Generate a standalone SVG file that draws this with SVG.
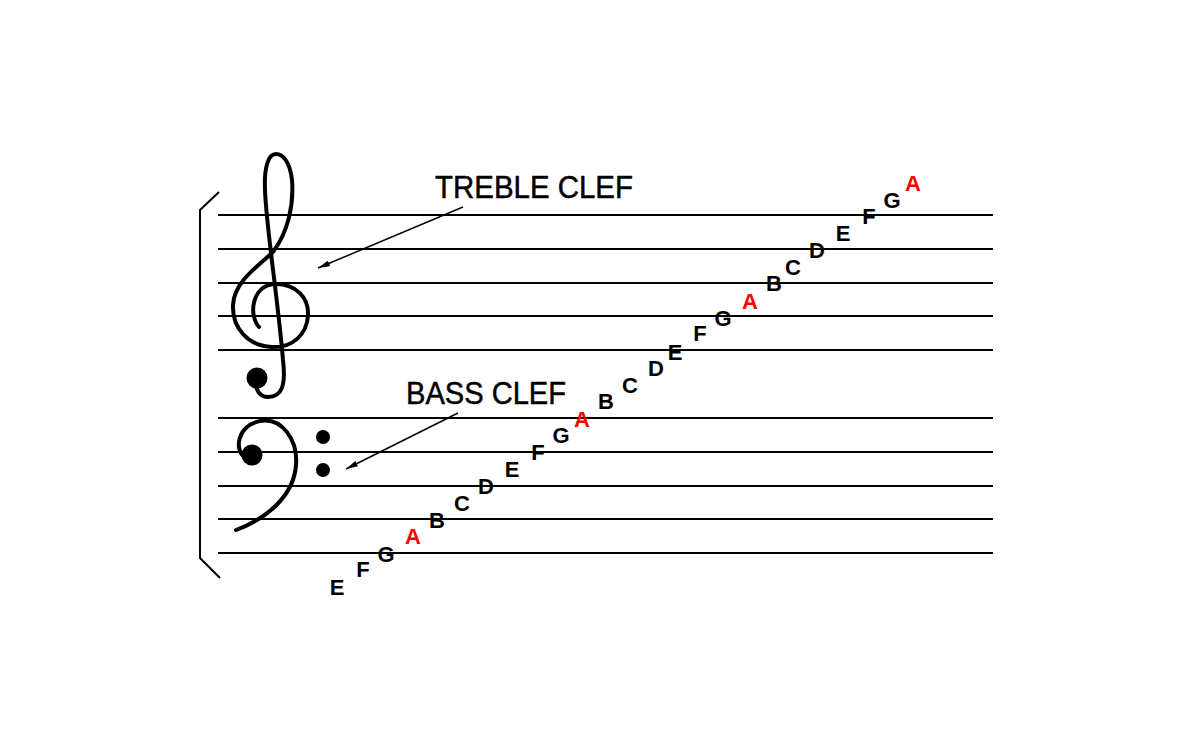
<svg xmlns="http://www.w3.org/2000/svg" width="1200" height="750" viewBox="0 0 1200 750">
<style>
.staff{stroke:#000;stroke-width:2;fill:none}
.clef{stroke:#000;stroke-width:4;fill:none;stroke-linecap:round}
.lbl{font-family:"Liberation Sans",Arial,sans-serif;font-size:32px;fill:#000;stroke:#000;stroke-width:0.5}
.n{font-family:"Liberation Sans",Arial,sans-serif;font-size:22px;font-weight:bold;fill:#000;text-anchor:middle}
.r{fill:#ff0000}
.arrow{stroke:#000;stroke-width:1.5;fill:none}
</style>
<defs>
<marker id="ah" viewBox="0 0 12 6" refX="12" refY="3" markerWidth="12" markerHeight="6" markerUnits="userSpaceOnUse" orient="auto">
<path d="M0,0 L12,3 L0,6 Z" fill="#000"/>
</marker>
</defs>
<rect width="1200" height="750" fill="#fff"/>
<g id="bracket">
<path class="staff" d="M219 192 L200 210 L200 558 L220 578" stroke-width="2.5"/>
</g>
<g id="treble-staff">
<line class="staff" x1="218" y1="215" x2="993" y2="215"/>
<line class="staff" x1="218" y1="249" x2="993" y2="249"/>
<line class="staff" x1="218" y1="283" x2="993" y2="283"/>
<line class="staff" x1="218" y1="316" x2="993" y2="316"/>
<line class="staff" x1="218" y1="350" x2="993" y2="350"/>
</g>
<g id="bass-staff">
<line class="staff" x1="218" y1="418" x2="993" y2="418"/>
<line class="staff" x1="218" y1="452" x2="993" y2="452"/>
<line class="staff" x1="218" y1="486" x2="993" y2="486"/>
<line class="staff" x1="218" y1="519" x2="993" y2="519"/>
<line class="staff" x1="218" y1="553" x2="993" y2="553"/>
</g>
<g id="treble-clef">
<path class="clef" d="M259 327 C248 315 252 284 276 284 C296 284 309 298 308 315 C307 335 292 348 272 347 C248 346 232 328 233 305 C234 282 258 266 273 252 C288 232 294 205 292 180 C290 162 283 154 276 154 C268 154 264 168 265 190 C266 225 278 300 283 360 C286 385 282 397 268 397 C260 397 256 390 256 384"/>
<circle cx="257" cy="378" r="10.5" fill="#000"/>
</g>
<g id="bass-clef">
<path class="clef" d="M246 458 C234 452 236 426 260 421 C282 417 298 440 296 465 C294 495 268 518 236 530"/>
<circle cx="252" cy="455" r="10.5" fill="#000"/>
<circle cx="323" cy="437" r="7" fill="#000"/>
<circle cx="323" cy="470" r="7" fill="#000"/>
</g>
<g id="labels">
<text class="lbl" x="435" y="198" textLength="198" lengthAdjust="spacingAndGlyphs">TREBLE CLEF</text>
<text class="lbl" x="406" y="404" textLength="160" lengthAdjust="spacingAndGlyphs">BASS CLEF</text>
</g>
<g id="connectors">
<line class="arrow" x1="463" y1="207" x2="318" y2="268" marker-end="url(#ah)"/>
<line class="arrow" x1="458" y1="413" x2="346" y2="469" marker-end="url(#ah)"/>
</g>
<g id="notes">
<text class="n" x="337" y="595">E</text>
<text class="n" x="363" y="577">F</text>
<text class="n" x="386" y="562">G</text>
<text class="n r" x="413" y="544">A</text>
<text class="n" x="437" y="528">B</text>
<text class="n" x="462" y="511">C</text>
<text class="n" x="486" y="494">D</text>
<text class="n" x="512" y="477">E</text>
<text class="n" x="538" y="460">F</text>
<text class="n" x="561" y="443">G</text>
<text class="n r" x="582" y="427">A</text>
<text class="n" x="606" y="409">B</text>
<text class="n" x="630" y="393">C</text>
<text class="n" x="656" y="376">D</text>
<text class="n" x="675" y="360">E</text>
<text class="n" x="700" y="341">F</text>
<text class="n" x="723" y="326">G</text>
<text class="n r" x="750" y="309">A</text>
<text class="n" x="774" y="291">B</text>
<text class="n" x="793" y="275">C</text>
<text class="n" x="817" y="258">D</text>
<text class="n" x="843" y="241">E</text>
<text class="n" x="869" y="224">F</text>
<text class="n" x="892" y="208">G</text>
<text class="n r" x="913" y="191">A</text>
</g>
</svg>
